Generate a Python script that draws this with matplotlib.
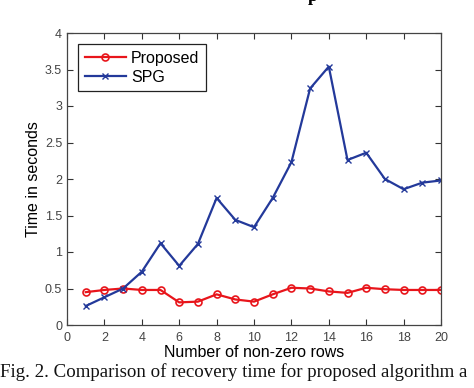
import matplotlib.pyplot as plt

rows = list(range(1, 21))
proposed = [0.45, 0.48, 0.50, 0.48, 0.48, 0.31, 0.32, 0.42, 0.35, 0.32,
            0.42, 0.51, 0.50, 0.46, 0.44, 0.51, 0.49, 0.48, 0.48, 0.48]
spg = [0.26, 0.38, 0.50, 0.73, 1.12, 0.81, 1.11, 1.74, 1.44, 1.34,
       1.74, 2.23, 3.24, 3.54, 2.26, 2.36, 2.00, 1.86, 1.95, 1.98]

xticks = list(range(0, 21, 2))
yticks = [0, 0.5, 1, 1.5, 2, 2.5, 3, 3.5, 4]
ytick_labels = ['0', '0.5', '1', '1.5', '2', '2.5', '3', '3.5', '4']

fig = plt.figure(figsize=(4.74, 3.88), dpi=100)
ax = fig.add_axes([67 / 474, 63 / 388, 374 / 474, 292 / 388])

ax.plot(rows, proposed, color='#e8151b', lw=1.6, marker='o', ms=5,
        mfc='none', mew=1.2, label='Proposed')
ax.plot(rows, spg, color='#23399a', lw=1.6, marker='x', ms=4,
        mew=1.0, label='SPG')

ax.set_xlim(0, 20)
ax.set_ylim(0, 4)
ax.set_xticks(xticks)
ax.set_yticks(yticks)
ax.set_yticklabels(ytick_labels)
ax.tick_params(direction='in', top=True, right=True, length=4,
               labelsize=9, labelcolor='#444444', color='#333333')
ax.tick_params(axis='x', pad=5)
for lab in ax.get_xticklabels() + ax.get_yticklabels():
    lab.set_family('Liberation Sans')
for s in ax.spines.values():
    s.set_color('#444444')
    s.set_linewidth(0.9)

ax.set_xlabel('Number of non-zero rows', family='Liberation Sans',
              fontsize=11.5, labelpad=1)
ax.set_ylabel('Time in seconds', family='Liberation Sans',
              fontsize=11.5, labelpad=3)

leg = ax.legend(loc='upper left', prop={'family': 'Liberation Sans', 'size': 11.5},
                fancybox=False, framealpha=1, edgecolor='#222222',
                handlelength=2.6, borderpad=0.4, labelspacing=0.25,
                handletextpad=0.3, borderaxespad=0.7)
leg.get_frame().set_linewidth(0.9)

fig.text(0.0, 16 / 388, 'Fig. 2. Comparison of recovery time for proposed algorithm a',
         family='Liberation Serif', fontsize=13.6, va='center', ha='left',
         color='#111111')
fig.text(308 / 474, 1 - 1 / 388, 'p', family='Liberation Serif', fontsize=13,
         weight='bold', va='baseline', ha='left')

fig.savefig('out.png', dpi=100)
